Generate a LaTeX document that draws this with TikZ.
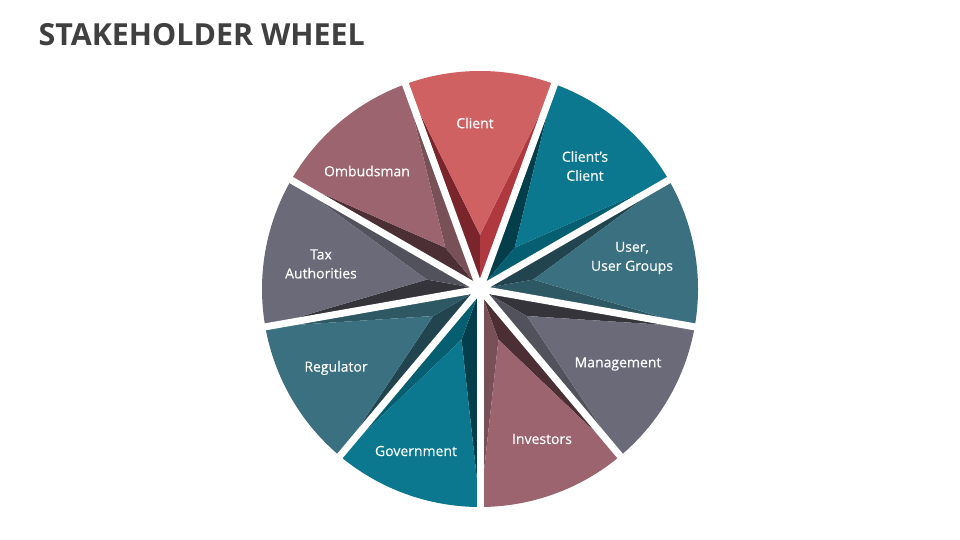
\documentclass[tikz,border=0pt]{standalone}
\usepackage{fontspec}
\setmainfont{Open Sans}
\usepackage{tikz}
\usetikzlibrary{calc}
\definecolor{titlegray}{RGB}{64, 64, 64}
\definecolor{roseFace}{RGB}{207, 97, 99}
\definecolor{roseDark}{RGB}{122, 36, 44}
\definecolor{roseMid}{RGB}{176, 56, 63}
\definecolor{tealFace}{RGB}{11, 120, 143}
\definecolor{tealDark}{RGB}{4, 62, 75}
\definecolor{tealMid}{RGB}{6, 95, 112}
\definecolor{slateFace}{RGB}{58, 112, 128}
\definecolor{slateDark}{RGB}{34, 68, 78}
\definecolor{slateMid}{RGB}{45, 88, 100}
\definecolor{steelFace}{RGB}{106, 106, 120}
\definecolor{steelDark}{RGB}{52, 52, 58}
\definecolor{steelMid}{RGB}{82, 82, 92}
\definecolor{mauveFace}{RGB}{156, 100, 110}
\definecolor{mauveDark}{RGB}{75, 47, 53}
\definecolor{mauveMid}{RGB}{120, 80, 88}

\begin{document}
\begin{tikzpicture}[
  x=1pt, y=1pt,
  lbl/.style={text=white, align=center,
              font=\fontsize{14}{19}\selectfont\addfontfeatures{FakeBold=0.3}},
  heading/.style={anchor=base west, text=titlegray, font=\fontsize{30.4}{36}\bfseries\selectfont},
  gap/.style={draw=white, line width=7pt}
]
\useasboundingbox (0,0) rectangle (960,540);
\coordinate (hub) at (480,251);

\node[heading] (title) at (35,494) {STAKEHOLDER WHEEL};

% wedges: dark side, mid side, then the face on top
\foreach \mid/\cl in {90/rose, 50/teal, 10/slate, -30/steel, -70/mauve,
                      -110/teal, -150/slate, 170/steel, 130/mauve} {
  \fill[fill=\cl Dark] (hub) -- ($(hub)+(\mid+20:218)$) -- ($(hub)+(\mid:54)$) -- cycle;
  \fill[fill=\cl Mid] (hub) -- ($(hub)+(\mid-20:218)$) -- ($(hub)+(\mid:54)$) -- cycle;
  \fill[fill=\cl Face] ($(hub)+(\mid:54)$) -- ($(hub)+(\mid+20:218)$)
    arc[start angle=\mid+20, end angle=\mid-20, radius=218] -- cycle;
}

% white gaps between the wedges
\foreach \b in {110, 70, 30, -10, -50, -90, -130, -170, 150}
  \draw[gap] (hub) -- ($(hub)+(\b:226)$);

\node[lbl] (client) at (475,417) {Client};
\node[lbl] (clientsclient) at (585,374) {Client’s\\Client};
\node[lbl] (users) at (632,282) {User,\\User Groups};
\node[lbl] (management) at (618,176) {Management};
\node[lbl] (investors) at (542,101) {Investors};
\node[lbl] (government) at (416,89) {Government};
\node[lbl] (regulator) at (336,172) {Regulator};
\node[lbl] (tax) at (321,276) {Tax\\Authorities};
\node[lbl] (ombudsman) at (367,369) {Ombudsman};
\end{tikzpicture}
\end{document}
